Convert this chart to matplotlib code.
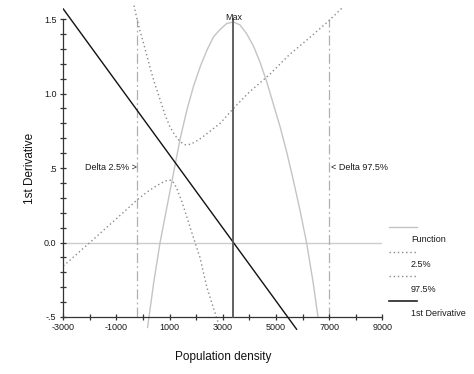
import matplotlib
matplotlib.use("Agg")
import matplotlib.pyplot as plt
from matplotlib.lines import Line2D

plt.rcParams['font.family'] = ['Liberation Sans', 'DejaVu Sans']

# ---- data ----
func_x = [170, 400, 640, 900, 1150, 1400, 1650, 1900, 2150, 2400, 2650, 2900,
          3150, 3400, 3650, 3900, 4150, 4400, 4650, 4900, 5150, 5400, 5650,
          5900, 6150, 6400, 6580]
func_y = [-0.57, -0.27, 0.0, 0.24, 0.47, 0.70, 0.89, 1.05, 1.18, 1.29, 1.38,
          1.43, 1.47, 1.48, 1.46, 1.40, 1.32, 1.21, 1.08, 0.93, 0.78, 0.61,
          0.42, 0.22, 0.0, -0.27, -0.50]

upper_x = [-340, -228, -115, 0, 150, 300, 450, 640, 800, 1000, 1200, 1400,
           1600, 1800, 2100, 2400, 2900, 3400, 4000, 4775, 5500, 6300, 7000,
           7520]
upper_y = [1.59, 1.5, 1.42, 1.35, 1.25, 1.15, 1.06, 0.96, 0.87, 0.78, 0.72,
           0.675, 0.655, 0.66, 0.69, 0.73, 0.80, 0.90, 1.01, 1.13, 1.26, 1.38,
           1.49, 1.58]

lower_x = [-3000, -2000, -1000, -230, 200, 500, 750, 950, 1100, 1250, 1450,
           1650, 1900, 2140, 2400, 2830]
lower_y = [-0.158, 0.0, 0.16, 0.285, 0.345, 0.38, 0.405, 0.42, 0.415, 0.37,
           0.28, 0.17, 0.03, -0.10, -0.30, -0.54]

deriv_x = [-3000, 5775]
deriv_y = [1.567, -0.582]

max_x = 3400
max_y = 1.49
delta_low = -230
delta_high = 7000

xticks = list(range(-3000, 9001, 1000))
xtick_labels = [str(v) if (v // 1000) % 2 != 0 else '' for v in xticks]
yticks = [-0.5, 0.0, 0.5, 1.0, 1.5]
ytick_labels = ['-.5', '0.0', '.5', '1.0', '1.5']
legend_labels = ['Function', '2.5%', '97.5%', '1st Derivative']

# ---- figure ----
W, H = 474, 374
fig = plt.figure(figsize=(W / 100, H / 100), dpi=100)
left_px, right_px, top_px, bot_px = 63.3, 382.3, 4.1, 331.9
ax = fig.add_axes([left_px / W, 1 - bot_px / H, (right_px - left_px) / W,
                   (bot_px - top_px) / H])

ax.set_xlim(-3000, 9000)
ax.set_ylim(-0.6, 1.6)

gray_func = '#c4c4c4'
gray_dot = '#8a8a8a'
gray_dd = '#b0b0b0'
txt = '#1a1a1a'
fs = 6.5

ax.axhline(0, color='#cccccc', lw=1.0, zorder=1)
ax.plot([delta_low, delta_low], [-0.5, 1.5], color=gray_dd, lw=0.9,
        dashes=(8, 2.5, 1.5, 2.5), zorder=1)
ax.plot([delta_high, delta_high], [-0.5, 1.5], color=gray_dd, lw=0.9,
        dashes=(8, 2.5, 1.5, 2.5), zorder=1)
ax.plot(func_x, func_y, color=gray_func, lw=1.0, zorder=2)
ax.plot(upper_x, upper_y, color=gray_dot, lw=1.0, dashes=(1, 2), zorder=2)
ax.plot(lower_x, lower_y, color=gray_dot, lw=1.0, dashes=(1, 2), zorder=2)
ax.plot(deriv_x, deriv_y, color='#111111', lw=1.0, zorder=3)
ax.plot([max_x, max_x], [-0.5, max_y], color='#555555', lw=1.3, zorder=3)

ax.text(max_x, max_y + 0.005, 'Max', ha='center', va='baseline', fontsize=fs,
        color=txt)
ax.text(delta_low, 0.5, 'Delta 2.5% >', ha='right', va='center', fontsize=fs,
        color=txt)
ax.text(delta_high + 60, 0.5, '< Delta 97.5%', ha='left', va='center',
        fontsize=fs, color=txt)

for s in ['top', 'right']:
    ax.spines[s].set_visible(False)
ax.spines['left'].set_bounds(-0.5, 1.5)
ax.spines['bottom'].set_position(('data', -0.5))
for s in ['left', 'bottom']:
    ax.spines[s].set_color('#333333')
    ax.spines[s].set_linewidth(0.9)

ax.set_xticks(xticks)
ax.set_xticklabels(xtick_labels)
ax.set_yticks(yticks)
ax.set_yticklabels(ytick_labels)
ax.set_yticks([v / 10 for v in range(-5, 16)], minor=True)
ax.tick_params(axis='both', which='both', direction='inout', length=5,
               width=0.9, color='#333333', labelsize=fs, labelcolor=txt)
ax.tick_params(axis='x', pad=1.5)
ax.tick_params(axis='y', pad=2.5)

ax.set_xlabel('Population density', fontsize=8.5, color='#111111')
ax.set_ylabel('1st Derivative', fontsize=8.5, color='#111111')
ax.xaxis.set_label_coords(0.5, (bot_px - 351) / (bot_px - top_px))
ax.yaxis.set_label_coords((36 - left_px) / (right_px - left_px), 0.5)

# ---- legend (drawn in figure pixels) ----
styles = [dict(color=gray_func, lw=1.0),
          dict(color=gray_dot, lw=1.0, dashes=(1, 2)),
          dict(color=gray_dot, lw=1.0, dashes=(1, 2)),
          dict(color='#222222', lw=1.2)]
for i, (lab, st) in enumerate(zip(legend_labels, styles)):
    yl = 227 + 24.5 * i
    fig.add_artist(Line2D([389 / W, 417 / W], [1 - yl / H] * 2,
                          transform=fig.transFigure, **st))
    fig.text(411 / W, 1 - (yl + 13) / H, lab, ha='left', va='center',
             fontsize=fs, color=txt)

fig.savefig('out.png', dpi=100)
